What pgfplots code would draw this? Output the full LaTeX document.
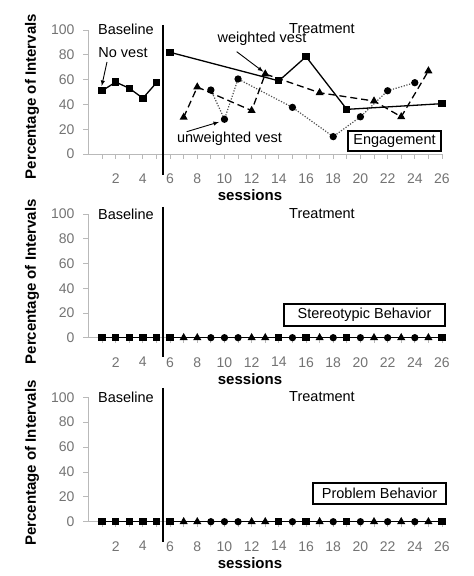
\documentclass[border=0pt]{standalone}
\usepackage{fontspec}
\setmainfont{Liberation Sans}
\usepackage{pgfplots}
\pgfplotsset{compat=1.18}
\definecolor{axgray}{RGB}{185,185,185}
\definecolor{tkgray}{RGB}{115,115,115}
\definecolor{dotgray}{RGB}{80,80,80}
\pgfplotsset{
 panel/.style={
  scale only axis, width=353.5pt,
  xmin=0, xmax=26, ymin=0, ymax=100,
  axis x line*=bottom, axis y line*=left,
  axis line style={axgray, line width=0.8pt},
  xtick={2,4,...,26}, minor xtick={1,...,26},
  ytick={0,20,...,100},
  tick align=outside,
  major tick length=5pt, minor tick length=5pt,
  every tick/.style={axgray, line width=0.8pt},
  every minor tick/.style={axgray, line width=0.8pt},
  tick label style={font=\fontsize{14}{16}\selectfont, text=tkgray},
  xticklabel style={yshift=-11pt},
  yticklabel style={xshift=-5.5pt},
  /pgf/number format/assume math mode=true,
  clip=false,
  anchor=south west,
 },
 sq/.style={black, line width=1.3pt, mark=square*, mark size=3pt, mark options={solid, fill=black}},
 ci/.style={dotgray, line width=1.2pt, dash pattern=on 1.2pt off 1.6pt, mark=*, mark size=3pt, mark options={solid, fill=black, draw=black}},
 tr/.style={black, line width=1.3pt, dash pattern=on 7pt off 4pt, mark=triangle*, mark size=3.4pt, mark options={solid, fill=black}},
}
\newcommand{\fs}{\fontsize{14.5}{17}\selectfont}
\begin{document}
\begin{tikzpicture}
\useasboundingbox (0,0) rectangle (474pt,576pt);
% ---------- Panel 1: Engagement
\begin{axis}[panel, at={(88.5pt,422pt)}, height=124pt]
\addplot[sq] coordinates {(1,51) (2,58) (3,53) (4,45) (5,57.5)};
\addplot[ci] coordinates {(9,51.6) (10,28) (11,60.5) (15,37.6) (18,14) (20,30) (22,51) (24,57.5)};
\addplot[tr] coordinates {(7,29.6) (8,54) (12,35) (13,64.5) (17,49.4) (21,42.7) (23,30) (25,67)};
\addplot[sq] coordinates {(6,82) (14,59) (16,78.5) (19,36) (26,40.6)};
\end{axis}
% ---------- Panel 2: Stereotypic Behavior
\begin{axis}[panel, at={(88.5pt,238.3pt)}, height=123.7pt]
\addplot[sq] coordinates {(1,0) (2,0) (3,0) (4,0) (5,0)};
\addplot[ci] coordinates {(9,0) (10,0) (11,0) (15,0) (18,0) (20,0) (22,0) (24,0)};
\addplot[tr] coordinates {(7,0) (8,0) (12,0) (13,0) (17,0) (21,0) (23,0) (25,0)};
\addplot[sq] coordinates {(6,0) (14,0) (16,0) (19,0) (26,0)};
\end{axis}
% ---------- Panel 3: Problem Behavior
\begin{axis}[panel, at={(88.5pt,54.3pt)}, height=124.4pt]
\addplot[sq] coordinates {(1,0) (2,0) (3,0) (4,0) (5,0)};
\addplot[ci] coordinates {(9,0) (10,0) (11,0) (15,0) (18,0) (20,0) (22,0) (24,0)};
\addplot[tr] coordinates {(7,0) (8,0) (12,0) (13,0) (17,0) (21,0) (23,0) (25,0)};
\addplot[sq] coordinates {(6,0) (14,0) (16,0) (19,0) (26,0)};
\end{axis}
% phase lines
\draw[black, line width=1.8pt] (163.3pt,551pt) -- (163.3pt,401pt);
\draw[black, line width=1.8pt] (163.3pt,369pt) -- (163.3pt,219pt);
\draw[black, line width=1.8pt] (163.3pt,188pt) -- (163.3pt,34pt);
% y labels
\foreach \yy in {479.5,294.3,113}{
  \node[rotate=90, font=\fontsize{15}{17}\selectfont\bfseries] at (32pt,\yy pt) {Percentage of Intervals};
}
% x labels
\foreach \yy in {381,197.3,13}{
  \node[font=\fontsize{15}{17}\selectfont\bfseries] at (250pt,\yy pt) {sessions};
}
% phase labels
\foreach \yy in {547,362,179}{
  \node[font=\fs] at (126pt,\yy pt) {Baseline};
  \node[font=\fs] at (322pt,\yy pt) {Treatment};
}
% annotations panel 1
\node[font=\fs] at (123pt,523pt) {No vest};
\draw[-latex, line width=0.9pt] (107pt,514pt) -- (101.7pt,490pt);
\node[font=\fs] at (262pt,537pt) {weighted vest};
\draw[-latex, line width=0.9pt] (236.7pt,524.3pt) -- (263.3pt,504.3pt);
\node[font=\fs] at (229.5pt,437.7pt) {unweighted vest};
\draw[-latex, line width=0.9pt] (186.7pt,444.3pt) -- (219pt,454pt);
% boxes
\node[draw, line width=1.2pt, font=\fs, minimum width=93pt, minimum height=20pt, inner sep=0pt] at (394.5pt,435pt) {Engagement};
\node[draw, line width=1.2pt, font=\fs, minimum width=161pt, minimum height=22pt, inner sep=0pt] at (364.5pt,261pt) {Stereotypic Behavior};
\node[draw, line width=1.2pt, font=\fs, minimum width=133pt, minimum height=21pt, inner sep=0pt] at (379.5pt,82.5pt) {Problem Behavior};
\end{tikzpicture}
\end{document}
